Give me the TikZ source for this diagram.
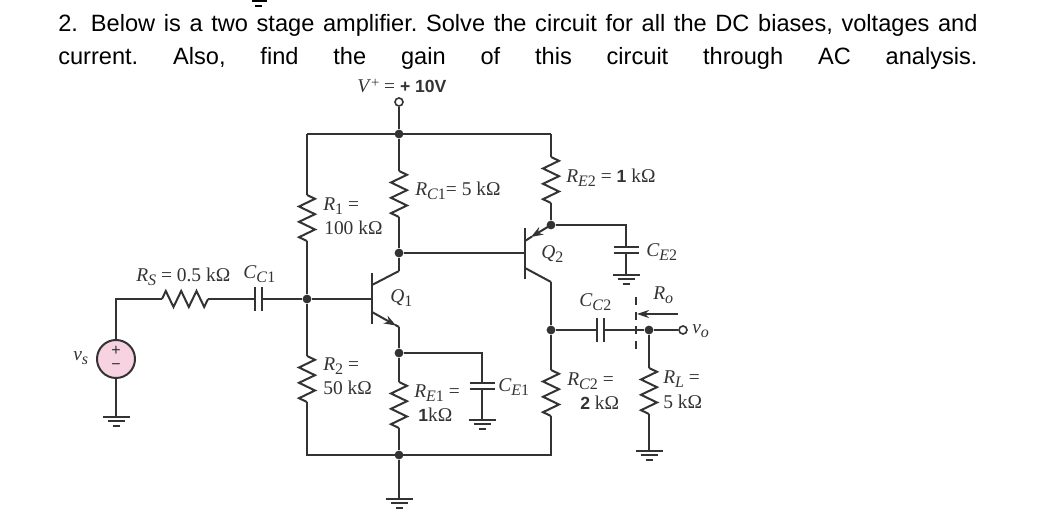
\documentclass[tikz,border=0pt]{standalone}
\usepackage{fontspec}
\setmainfont{Liberation Serif}
\newfontfamily\hv{Liberation Sans}
\usetikzlibrary{arrows.meta,calc}
\definecolor{ink}{HTML}{333333}
\definecolor{srcpink}{HTML}{F7D3E2}
\frenchspacing
\newcommand{\sbs}[1]{\raisebox{-0.5ex}{\fontsize{12}{12}\selectfont #1}}
\newcommand{\bsf}[1]{{\hv\bfseries\fontsize{13.2}{14}\selectfont #1}}
\tikzset{
  wire/.style={draw=ink,line width=1.5pt,line join=miter},
  plate/.style={draw=ink,line width=2.2pt},
  dotnode/.style={circle,fill=ink,inner sep=0pt,minimum size=6.6pt},
  opennode/.style={circle,draw=ink,fill=white,line width=1.2pt,inner sep=0pt,minimum size=6pt},
  lab/.style={anchor=west,text=ink,inner sep=0pt,font=\fontsize{14.6}{15}\selectfont},
  headline/.style={anchor=base west,inner sep=0pt,text=black,font=\hv\fontsize{17.7}{20}\selectfont},
  resz/.pic={
    \draw[wire] (0,0) -- (8,3.8) -- (-8,11.5) -- (8,19.2) -- (-8,26.8) -- (8,34.5) -- (-8,42.2) -- (0,46);
    \coordinate (-a) at (0,0);
    \coordinate (-b) at (0,46);
  },
  gndz/.pic={
    \draw[wire] (-13.5,0) -- (13.5,0);
    \draw[wire] (-8.5,4.5) -- (8.5,4.5);
    \draw[wire] (-3.5,9) -- (3.5,9);
    \coordinate (-t) at (0,0);
  },
  capv/.pic={
    \draw[plate] (-12.5,0) -- (12.5,0);
    \draw[plate] (-12.5,6) -- (12.5,6);
    \coordinate (-a) at (0,0);
    \coordinate (-b) at (0,6);
  },
  caph/.pic={
    \draw[plate] (0,-12) -- (0,12);
    \draw[plate] (7,-12) -- (7,12);
    \coordinate (-a) at (0,0);
    \coordinate (-b) at (7,0);
  }
}
\begin{document}
\begin{tikzpicture}[x=0.75pt,y=-0.75pt]
\useasboundingbox (0,0) rectangle (1058,530);
% heading
\node[headline] (h1) at (58,31.5) {\makebox[689.5pt][s]{2.\hspace{0.55em}Below is a two stage amplifier. Solve the circuit for all the DC biases, voltages and}};
\node[headline] (h2) at (58,64.5) {\makebox[689.5pt][s]{current. Also, find the gain of this circuit through AC analysis.}};
\draw[draw=black,line width=1.5pt] (252,1) -- (267,1);
\draw[draw=black,line width=1.2pt] (255,6) -- (262,6);

% junctions
\node[opennode] (vp) at (399,102) {};
\node[dotnode] (top) at (399,134) {};
\coordinate (tl) at (307,134);
\coordinate (tr) at (551,134);
\node[dotnode] (c1) at (399,253) {};
\node[dotnode] (bn) at (307,299) {};
\node[dotnode] (e1n) at (399,353) {};
\node[dotnode] (botn) at (399,455) {};
\coordinate (bl) at (307,455);
\coordinate (br) at (551,455);
\node[dotnode] (e2n) at (551,225) {};
\node[dotnode] (c2n) at (551,330) {};
\node[dotnode] (lnode) at (649,330) {};
\node[opennode] (vout) at (683,330) {};
\node[circle,draw=ink,fill=srcpink,line width=1.5pt,inner sep=0pt,minimum size=28.5pt] (src) at (116,359) {};
\node[inner sep=0pt,text=ink,font=\hv\fontsize{12}{12}\selectfont] (plus) at (116,351) {+};
\node[inner sep=0pt,text=ink,font=\hv\fontsize{12}{12}\selectfont] (minus) at (116,367) {−};
\coordinate (sc) at (116,299);

% resistors
\pic (r1) at (307,195) {resz};
\pic (rc1) at (399,171) {resz};
\pic (re2) at (551,157) {resz};
\pic (r2) at (307,356) {resz};
\pic (re1) at (399,382) {resz};
\pic (rc2) at (551,370) {resz};
\pic (rl) at (649,368) {resz};
\pic[rotate=90] (rs) at (162,299) {resz};

% capacitors
\pic (cc1) at (255,299) {caph};
\pic (cc2) at (597,330) {caph};
\pic (ce1) at (482,383) {capv};
\pic (ce2) at (626,247) {capv};

% grounds
\pic (g1) at (116,417) {gndz};
\pic (g2) at (399,499) {gndz};
\pic (g3) at (482,420) {gndz};
\pic (g4) at (626,275) {gndz};
\pic (g5) at (649,451) {gndz};

% transistors
\coordinate (q1b) at (372,299);
\coordinate (q1c) at (399,271);
\coordinate (q1e) at (399,327);
\coordinate (q2b) at (525,253);
\coordinate (q2c) at (551,282);
\draw[plate] (372,273) -- (372,324);
\draw[plate] (525,228) -- (525,279);
\draw[wire] (372,285) -- (q1c);
\draw[wire,-{Stealth[length=9pt,width=6.5pt]}] (372,312) -- (396,325.5);
\draw[wire] (395,324.8) -- (q1e);
\draw[wire] (525,268) -- (q2c);
\draw[wire,-{Stealth[length=9pt,width=6.5pt]}] (e2n.center) -- (531,237);
\draw[wire] (532,236.5) -- (525,241);

% connectors
\draw[wire] (vp) -- (top);
\draw[wire] (tl) -- (tr);
\draw[wire] (tl) -- (r1-a);
\draw[wire] (r1-b) -- (bn);
\draw[wire] (bn) -- (r2-a);
\draw[wire] (r2-b) -- (bl) -- (br) -- (rc2-b);
\draw[wire] (top) -- (rc1-a);
\draw[wire] (rc1-b) -- (c1);
\draw[wire] (c1) -- (q1c);
\draw[wire] (c1) -- (q2b);
\draw[wire] (tr) -- (re2-a);
\draw[wire] (re2-b) -- (e2n);
\draw[wire] (e2n) -| (ce2-a);
\draw[wire] (ce2-b) -- (g4-t);
\draw[wire] (q2c) -- (c2n);
\draw[wire] (c2n) -- (rc2-a);
\draw[wire] (c2n) -- (cc2-a);
\draw[wire] (cc2-b) -- (lnode);
\draw[wire] (lnode) -- (vout);
\draw[wire] (lnode) -- (rl-a);
\draw[wire] (rl-b) -- (g5-t);
\draw[wire] (bn) -- (q1b);
\draw[wire] (q1e) -- (e1n);
\draw[wire] (e1n) -- (re1-a);
\draw[wire] (re1-b) -- (botn);
\draw[wire] (botn) -- (g2-t);
\draw[wire] (e1n) -| (ce1-a);
\draw[wire] (ce1-b) -- (g3-t);
\draw[wire] (src) -- (sc) -- (rs-a);
\draw[wire] (rs-b) -- (cc1-a);
\draw[wire] (cc1-b) -- (bn);
\draw[wire] (src) -- (g1-t);

% R_o marker
\coordinate (dt) at (636,297);
\coordinate (db) at (636,353);
\coordinate (ra) at (678,314);
\coordinate (rb) at (637,314);
\draw[draw=ink,line width=0.9pt,dash pattern=on 6pt off 5pt] (dt) -- (db);
\draw[draw=ink,line width=1.2pt,-{Stealth[length=9pt,width=6pt]}] (ra) -- (rb);

% labels
\node[lab] (lv) at (357,86) {\textit{V}\raisebox{0.55ex}{\fontsize{11}{11}\selectfont +} = \bsf{+ 10V}};
\node[lab] (lr1a) at (323,206) {\textit{R}\sbs{1} =};
\node[lab] (lr1b) at (324,228) {100 kΩ};
\node[lab] (lrc1) at (415,191) {\textit{R}\sbs{\textit{C}1}= 5 kΩ};
\node[lab] (lre2) at (566,178) {\textit{R}\sbs{\textit{E}2} = \bsf{1} kΩ};
\node[lab] (lq2) at (541,254) {\textit{Q}\sbs{2}};
\node[lab] (lce2) at (646,252) {\textit{C}\sbs{\textit{E}2}};
\node[lab] (lq1) at (390,298) {\textit{Q}\sbs{1}};
\node[lab] (lrs) at (136,277) {\textit{R}\sbs{\textit{S}} = 0.5 kΩ};
\node[lab] (lcc1) at (243,274) {\textit{C}\sbs{\textit{C}1}};
\node[lab] (lvs) at (73,358) {\textit{v}\sbs{\textit{s}}};
\node[lab] (lcc2) at (579,302) {\textit{C}\sbs{\textit{C}2}};
\node[lab] (lro) at (653,295) {\textit{R}\sbs{\textit{o}}};
\node[lab] (lvo) at (692,331) {\textit{v}\sbs{\textit{o}}};
\node[lab] (lr2a) at (323,366) {\textit{R}\sbs{2} =};
\node[lab] (lr2b) at (323,388) {50 kΩ};
\node[lab] (lre1a) at (414,393) {\textit{R}\sbs{\textit{E}1} =};
\node[lab] (lre1b) at (418,415) {\bsf{1}kΩ};
\node[lab] (lce1) at (498,387) {\textit{C}\sbs{\textit{E}1}};
\node[lab] (lrc2a) at (567,381) {\textit{R}\sbs{\textit{C}2} =};
\node[lab] (lrc2b) at (580,403) {\bsf{2} kΩ};
\node[lab] (lrla) at (663,379) {\textit{R}\sbs{\textit{L}} =};
\node[lab] (lrlb) at (663,402) {5 kΩ};
\end{tikzpicture}
\end{document}
